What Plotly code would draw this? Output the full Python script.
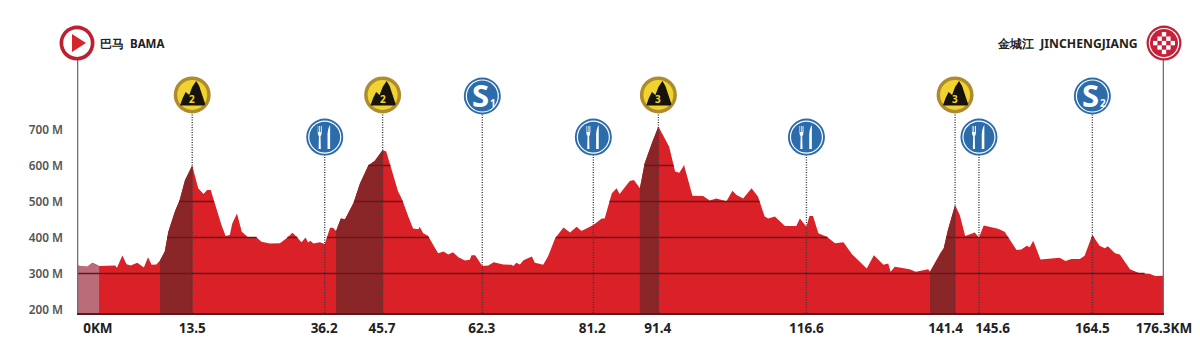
import numpy as np
import plotly.graph_objects as go

# ---------- data ----------
distance_km = [-5.8,-4.1,-3.2,-2.1,0.6,0.9,1.8,2.5,3.2,4.3,5.4,6.1,6.7,7.5,8.1,8.9,9.5,10.6,11.4,12.3,13.5,14.5,15.4,16.0,16.6,17.6,18.4,19.1,19.8,20.2,21.0,21.8,22.9,24.3,25.1,26.5,28.2,29.3,30.3,31.0,31.8,32.5,32.9,33.3,33.8,34.9,35.7,36.1,36.6,37.1,37.6,38.4,39.1,40.5,41.6,43.0,44.1,45.4,46.0,46.7,48.0,48.3,48.7,49.7,50.5,51.4,51.6,52.2,53.0,54.2,54.7,55.6,56.4,57.2,58.1,59.2,60.0,60.3,60.9,62.1,63.1,64.0,64.8,65.6,67.0,67.3,67.8,68.4,69.0,70.4,70.9,72.3,73.1,74.3,75.7,76.8,77.9,78.7,80.7,82.1,82.6,83.8,84.6,85.1,86.8,87.5,88.5,89.3,90.5,91.6,93.4,94.4,95.1,95.9,97.3,99.1,100.2,101.3,103.0,104.0,104.7,105.8,107.2,108.3,109.4,110.0,111.1,112.8,114.7,115.3,116.4,116.9,117.5,118.4,119.8,121.2,122.6,124.0,126.5,127.7,129.3,130.1,130.5,131.2,133.7,134.7,136.8,137.1,138.8,139.4,140.1,141.3,142.1,143.0,144.6,145.3,146.1,148.5,149.6,151.6,152.4,153.3,153.8,154.4,155.6,158.8,159.8,160.8,162.2,163.0,164.3,165.5,166.4,166.9,168.1,168.9,170.6,172.2,173.9,174.8,176.3]
elevation_m = [322,319,330,321,322,316,350,326,322,330,317,345,324,325,336,361,416,472,504,560,600,537,521,532,532,476,435,404,407,438,467,416,400,400,388,383,384,398,413,402,387,400,386,391,383,387,382,402,427,427,418,453,451,495,550,600,613,643,639,600,527,518,504,458,425,423,430,412,405,370,356,361,353,359,345,336,338,351,351,321,322,331,328,325,324,321,330,325,337,347,330,324,347,398,428,414,430,418,435,453,453,523,537,521,557,560,537,606,662,708,652,583,580,601,516,515,503,508,501,530,518,508,537,513,458,453,458,432,432,453,430,460,460,412,402,384,387,354,314,351,324,328,305,319,312,305,312,305,356,370,421,490,462,404,414,400,433,424,416,365,367,377,373,391,339,344,335,340,340,349,407,377,370,376,356,353,312,301,299,293,294]

neutral_end_km = -2.1
climb_start_km = [8.1, 37.6, 88.5, 137.1]
climb_end_km = [13.5, 45.4, 91.6, 141.3]

grid_levels_m = [300, 400, 500, 600]
y_tick_values = [200, 300, 400, 500, 600, 700]
y_tick_labels = ["200 M", "300 M", "400 M", "500 M", "600 M", "700 M"]
x_tick_positions = [-2.3, 13.5, 35.6, 45.3, 62.0, 80.5, 91.5, 116.4, 139.7, 147.6, 164.3, 176.3]
x_tick_labels = ["0KM", "13.5", "36.2", "45.7", "62.3", "81.2", "91.4", "116.6", "141.4", "145.6", "164.5", "176.3KM"]

waypoint_km = [13.5, 35.7, 45.4, 62.1, 80.7, 91.6, 116.4, 141.3, 145.3, 164.3]
waypoint_kind = ["M2", "F", "M2", "S1", "F", "M3", "F", "M3", "F", "S2"]
start_name = "巴马  BAMA"
finish_name = "金城江  JINCHENGJIANG"

# ---------- styles ----------
RED, PALE, DARK, GRID = "#d92127", "#bb6c79", "#8a2528", "#6e1519"
BLUE, GOLD, YELLOW = "#2c6cab", "#ad8c2f", "#f0d330"
POLE = "#707070"
FONT = "Noto Sans"
X_MIN, X_MAX = -5.8, 176.3
Y_MIN, Y_MAX = 190.3, 1059.7
ICON_Y = {"M": 796, "S": 793, "F": 679}
ICON_R = 18.5
POLE_Y = 940

x = np.array(distance_km, float)
y = np.array(elevation_m, float)

fig = go.Figure()


def area(mask, color):
    fig.add_trace(go.Scatter(x=x[mask], y=y[mask], mode="lines", line=dict(width=0, color=color),
                             fill="tozeroy", fillcolor=color, hoverinfo="skip", showlegend=False))


area(np.ones_like(x, bool), RED)
area(x <= neutral_end_km, PALE)
for a, b in zip(climb_start_km, climb_end_km):
    area((x >= a) & (x <= b), DARK)

# grid lines only inside the profile: split each level where the profile crosses it
for lvl in grid_levels_m:
    gx, gy = [], []
    inside = False
    for i in range(len(x) - 1):
        y0, y1 = y[i], y[i + 1]
        if i == 0 and y0 >= lvl:
            gx.append(x[0]); gy.append(lvl); inside = True
        if (y0 < lvl) != (y1 < lvl):
            cx = x[i] + (lvl - y0) / (y1 - y0) * (x[i + 1] - x[i])
            gx.append(cx); gy.append(lvl)
            if inside:
                gx.append(None); gy.append(None)
            inside = not inside
    if inside:
        gx.append(x[-1]); gy.append(lvl)
    fig.add_trace(go.Scatter(x=gx, y=gy, mode="lines", line=dict(color=GRID, width=1.5),
                             hoverinfo="skip", showlegend=False))

# dotted drop lines
for km, kind in zip(waypoint_km, waypoint_kind):
    top = ICON_Y[kind[0]]
    fig.add_trace(go.Scatter(x=[km, km], y=[Y_MIN, top], mode="lines",
                             line=dict(color="#3a3a3a", width=1.4, dash="1px,1.5px"),
                             hoverinfo="skip", showlegend=False))

# start / finish poles
for km in (X_MIN, X_MAX):
    fig.add_trace(go.Scatter(x=[km, km], y=[Y_MIN, POLE_Y], mode="lines", cliponaxis=False,
                             line=dict(color=POLE, width=2.6), hoverinfo="skip", showlegend=False))

shapes = []
annotations = []


def frac_x(km):
    return (km - X_MIN) / (X_MAX - X_MIN)


def frac_y(elev):
    return (elev - Y_MIN) / (Y_MAX - Y_MIN)


def circle(km, elev, r, fill, line=None, lw=0):
    # paper references keep the icons on the plot edges from being clipped
    shapes.append(dict(type="circle", xref="paper", yref="paper", xsizemode="pixel", ysizemode="pixel",
                       xanchor=frac_x(km), yanchor=frac_y(elev), x0=-r, x1=r, y0=-r, y1=r, fillcolor=fill,
                       line=dict(color=line or fill, width=lw), layer="above"))


def glyph(km, elev, path, fill):
    shapes.append(dict(type="path", xref="paper", yref="paper", xsizemode="pixel", ysizemode="pixel",
                       xanchor=frac_x(km), yanchor=frac_y(elev), path=path, fillcolor=fill,
                       line=dict(width=0), layer="above"))


def label(km, elev, text, size, color, dx=0, dy=0, anchor="center", family=FONT):
    annotations.append(dict(x=km, y=elev, xref="x", yref="y", text=text, showarrow=False,
                            xanchor=anchor, yanchor="middle", xshift=dx, yshift=dy,
                            font=dict(family=family, size=size, color=color, weight="bold")))


MOUNTAIN = "M-12 -10 L-9.5 -3 L-6.5 3 L-3 0 L0 8 L4 14 L7 9 L10 0 L13 -9 Q13 -10.5 11 -10.5 L-10 -10.5 Q-12.5 -10.5 -12 -10 Z"
FORK = ("M-7 11 L-6.5 11 L-6.5 5 L-5.6 5 L-5.6 11 L-4.8 11 L-4.8 5 L-3.9 5 L-3.9 11 L-3 11 L-3 5 "
        "Q-3 1.5 -4.2 1 L-3.9 -12 L-6.1 -12 L-5.8 1 Q-7 1.5 -7 5 Z")
KNIFE = "M2.8 -12 L5.4 -12 L5.4 12 Q2.4 8 2.8 -1 Z"

for km, kind in zip(waypoint_km, waypoint_kind):
    elev = ICON_Y[kind[0]]
    if kind[0] == "M":
        circle(km, elev, ICON_R, GOLD)
        circle(km, elev, 15, YELLOW)
        glyph(km, elev, MOUNTAIN, "#17130c")
        label(km, elev, kind[1], 10, YELLOW, dy=-4)
    else:
        circle(km, elev, ICON_R, BLUE)
        circle(km, elev, 16.6, "#ffffff")
        circle(km, elev, 15.4, BLUE)
        if kind == "F":
            glyph(km, elev, FORK, "#ffffff")
            glyph(km, elev, KNIFE, "#ffffff")
        else:
            label(km, elev, "S", 31, "#ffffff", dx=-2, dy=1)
            label(km, elev, kind[1], 10, "#ffffff", dx=11, dy=-7)

# start icon
circle(X_MIN, POLE_Y, 17.5, "#bd2030")
circle(X_MIN, POLE_Y, 13.8, "#ffffff")
glyph(X_MIN, POLE_Y, "M-5 9 L9 0 L-5 -9 Z", "#d5262c")
label(X_MIN, POLE_Y, start_name, 11.5, "#222222", dx=21, anchor="left")

# finish icon: red disc with white checks
circle(X_MAX, POLE_Y, 17.5, "#c12337")
circle(X_MAX, POLE_Y, 15.2, "#ffffff")
circle(X_MAX, POLE_Y, 14, "#c8203a")
CELL = 4.4
for i in range(-3, 4):
    for j in range(-3, 4):
        if (i + j) % 2 == 0 and (i * i + j * j) * CELL * CELL <= 12.0 ** 2:
            x0, y0 = (i - 0.5) * CELL, (j - 0.5) * CELL
            glyph(X_MAX, POLE_Y, f"M{x0} {y0} L{x0 + CELL} {y0} L{x0 + CELL} {y0 + CELL} L{x0} {y0 + CELL} Z", "#ffffff")
label(X_MAX, POLE_Y, finish_name, 12.2, "#222222", dx=-24, anchor="right")

fig.update_layout(
    width=1200, height=353, autosize=False,
    margin=dict(l=77, r=36, t=0, b=40),
    paper_bgcolor="#ffffff", plot_bgcolor="#ffffff",
    showlegend=False, hovermode=False,
    shapes=shapes, annotations=annotations,
    xaxis=dict(range=[X_MIN, X_MAX], tickmode="array", tickvals=x_tick_positions, ticktext=x_tick_labels,
               showgrid=False, zeroline=False, ticks="", showline=True, linecolor="#5a1a1c", linewidth=2,
               ticklabelstandoff=2, tickangle=0,
               tickfont=dict(family=FONT, size=13.5, color="#222222", weight="bold")),
    yaxis=dict(range=[Y_MIN, Y_MAX], tickmode="array", tickvals=y_tick_values, ticktext=y_tick_labels,
               showgrid=False, zeroline=False, ticks="", showline=False, ticklabelstandoff=13,
               tickfont=dict(family=FONT, size=11.8, color="#555555", weight=600)),
)

fig.write_html("out.html", config={"displayModeBar": False},
               post_script="document.body.style.margin='0';")
